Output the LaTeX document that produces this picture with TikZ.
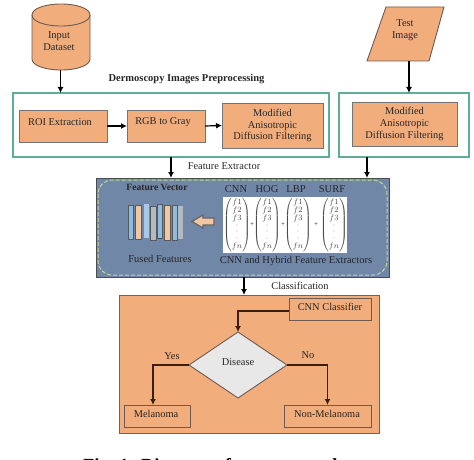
\documentclass[tikz,border=0pt]{standalone}
\usepackage{fontspec}
\setmainfont{Liberation Serif}
\usetikzlibrary{arrows.meta,shapes.geometric,positioning}
\definecolor{orangefill}{HTML}{F2AD7C}
\definecolor{greenline}{HTML}{5FAF98}
\definecolor{slate}{HTML}{7187A8}
\definecolor{dashgreen}{HTML}{BFD79A}
\definecolor{barblue}{HTML}{8FBBE0}
\definecolor{barorange}{HTML}{F3C6A2}
\definecolor{bargray}{HTML}{B4BAC2}
\definecolor{darkedge}{HTML}{6E5A50}
\definecolor{darkbrown}{HTML}{3A1E12}
\tikzset{
  x=1pt,y=-1pt,
  every node/.style={inner sep=0pt,outer sep=0pt,align=center,font=\fontsize{10.4}{11.7}\selectfont,text=black!85},
  ftbox/.style={draw=black!55,fill=orangefill,line width=0.9pt},
  framebox/.style={draw=greenline,line width=1.1pt},
  arr/.style={-{Latex[length=6pt,width=6pt]},line width=1.2pt,black},
  flow/.style={-{Latex[length=6pt,width=6pt]},line width=1.3pt,darkbrown},
  outl/.style={draw=darkedge,line width=0.9pt},
  bar/.style={draw=black!65,line width=0.7pt},
  matlabel/.style={font=\fontsize{10.5}{12}\selectfont},
  vecnode/.style={font=\fontsize{8.5}{9.5}\itshape\selectfont,text=black!70}
}
\newcommand{\vectxt}{$\left(\begin{array}{@{}c@{}}f1\\[-1.5pt] f2\\[-1.5pt] f3\\[-3pt] \cdot\\[-3pt] \cdot\\[-3pt] \cdot\\[-1pt] fn\end{array}\right)$}
\begin{document}
\begin{tikzpicture}
\useasboundingbox (0,0) rectangle (474,460);
% input dataset
\draw[draw=darkedge,fill=orangefill,line width=0.9pt] (32,15) -- (32,59) .. controls (32,65.5) and (45,70) .. (61,70) .. controls (77,70) and (90,65.5) .. (90,59) -- (90,15) .. controls (90,8.5) and (77,4) .. (61,4) .. controls (45,4) and (32,8.5) .. (32,15) -- cycle;
\draw[draw=darkedge,line width=0.9pt] (32,15) .. controls (32,21.5) and (45,26) .. (61,26) .. controls (77,26) and (90,21.5) .. (90,15);
\coordinate (inb) at (60.5,70);
\node (inputt) at (59,41) {Input\\Dataset};
% test image
\draw[draw=darkedge,fill=orangefill,line width=0.9pt] (386,7) -- (444,7) -- (429,61) -- (367,61) -- cycle;
\node (testt) at (405,30) {Test\\Image};
\coordinate (testb) at (409,61);
% frames
\node[framebox,minimum width=316pt,minimum height=64pt] (prep) at (171,125) {};
\node[framebox,minimum width=130pt,minimum height=64pt] (prep2) at (404,125) {};
\node[font=\fontsize{10.5}{12}\bfseries\selectfont] (preptitle) at (186.5,79) {Dermoscopy Images Preprocessing};
% boxes
\node[ftbox,minimum width=88pt,minimum height=32pt] (roi) at (63,126) {};
\node (roit) at (60,122) {ROI Extraction};
\node[ftbox,minimum width=78pt,minimum height=32pt] (rgb) at (166,126) {};
\node (rgbt) at (163,122) {RGB to Gray};
\node[ftbox,minimum width=101pt,minimum height=45pt] (mad) at (272.5,125.5) {Modified\\Anisotropic\\Diffusion Filtering};
\node[ftbox,minimum width=105pt,minimum height=44pt] (mad2) at (404.5,124) {Modified\\Anisotropic\\Diffusion Filtering};
\draw[arr] (roi.east) -- (rgb.west);
\draw[arr] (rgb.east) -- (mad.west);
\draw[arr] (inb) -- (inb |- prep.north);
\draw[arr] (testb) -- (testb |- prep2.north);
% extractor
\node[draw=black!70,fill=slate,line width=1pt,minimum width=293pt,minimum height=99pt] (ext) at (242.5,227.5) {};
\draw[dash pattern=on 4pt off 2pt,draw=dashgreen,line width=1pt,rounded corners=14pt] (98,180) rectangle (387,275);
\coordinate (s2) at (367,157);
\draw[arr] (prep.south) -- (prep.south |- ext.north);
\draw[arr] (s2) -- (s2 |- ext.north);
\node (fe) at (224,166) {Feature Extractor};
\node[font=\fontsize{9.6}{11}\bfseries\selectfont,text=black!85] (fv) at (157,187) {Feature Vector};
\node[matlabel] (fu) at (160,259) {Fused Features};
\node[matlabel] (cn) at (296,261) {CNN and Hybrid Feature Extractors};
\node[matlabel] (l1) at (236,189) {CNN};
\node[matlabel] (l2) at (267,189) {HOG};
\node[matlabel] (l3) at (296,189) {LBP};
\node[matlabel] (l4) at (332,189) {SURF};
\fill[white] (223,197) rectangle (347,253);
\node[vecnode] (v1) at (237,225) {\vectxt};
\node[vecnode] (v2) at (267,225) {\vectxt};
\node[vecnode] (v3) at (298,225) {\vectxt};
\node[vecnode] (v4) at (334,225) {\vectxt};
\node[font=\fontsize{7}{8}\selectfont] (p1) at (252,225) {+};
\node[font=\fontsize{7}{8}\selectfont] (p2) at (283,225) {+};
\node[font=\fontsize{7}{8}\selectfont] (p3) at (316,225) {+};
% bars
\draw[bar,fill=barblue] (128,205) rectangle (133,239);
\draw[bar,fill=barorange] (135.5,205.5) rectangle (141,239.5);
\draw[fill=barblue!80!white,draw=none] (143.5,204) rectangle (149,238);
\draw[bar,fill=bargray] (150.5,206) rectangle (156,240);
\draw[bar,fill=barblue] (157,204) rectangle (162,238);
\draw[bar,fill=barorange] (164,205.5) rectangle (170,240);
\draw[bar,fill=barblue] (172,205.5) rectangle (177,240);
\draw[fill=bargray,draw=none] (178,205.5) rectangle (183,239);
\draw[draw=black!60,fill=barorange,line width=1.2pt] (214,218) -- (203,218) -- (203,215) -- (192,221.5) -- (203,228) -- (203,225) -- (214,225) -- cycle;
% classification box
\node[draw=black!60,fill=orangefill,line width=0.9pt,minimum width=260pt,minimum height=138pt] (cls) at (249,364) {};
\coordinate (s3) at (244,277);
\draw[arr] (s3) -- (s3 |- cls.north);
\node (cl) at (300,286) {Classification};
\node[outl,minimum width=82pt,minimum height=22pt] (cnnc) at (330,309) {};
\node (cnnct) at (330,307) {CNN Classifier};
\node[diamond,aspect=1.5,draw=darkedge,fill=black!9,line width=0.9pt,minimum width=98pt,minimum height=66pt] (dis) at (238,365) {};
\node (dist) at (238,362) {Disease};
\node[outl,minimum width=66pt,minimum height=22pt] (mel) at (157,416) {};
\node (melt) at (156,414) {Melanoma};
\node[outl,minimum width=87pt,minimum height=22pt] (non) at (327.5,416) {};
\node (nont) at (327,414) {Non-Melanoma};
\node (yes) at (172,356) {Yes};
\node (no) at (308,355) {No};
\coordinate (cnnout) at (289,311);
\coordinate (melin) at (153,405);
\draw[flow] (cnnout) -| (dis.north);
\draw[flow] (dis.west) -| (melin);
\draw[flow] (dis.east) -| (non.north);
\node[font=\fontsize{18.5}{20}\bfseries\selectfont,text=black,anchor=base west] (cap) at (83,471) {Fig. 1: Diagram of our approach};
\end{tikzpicture}
\end{document}
